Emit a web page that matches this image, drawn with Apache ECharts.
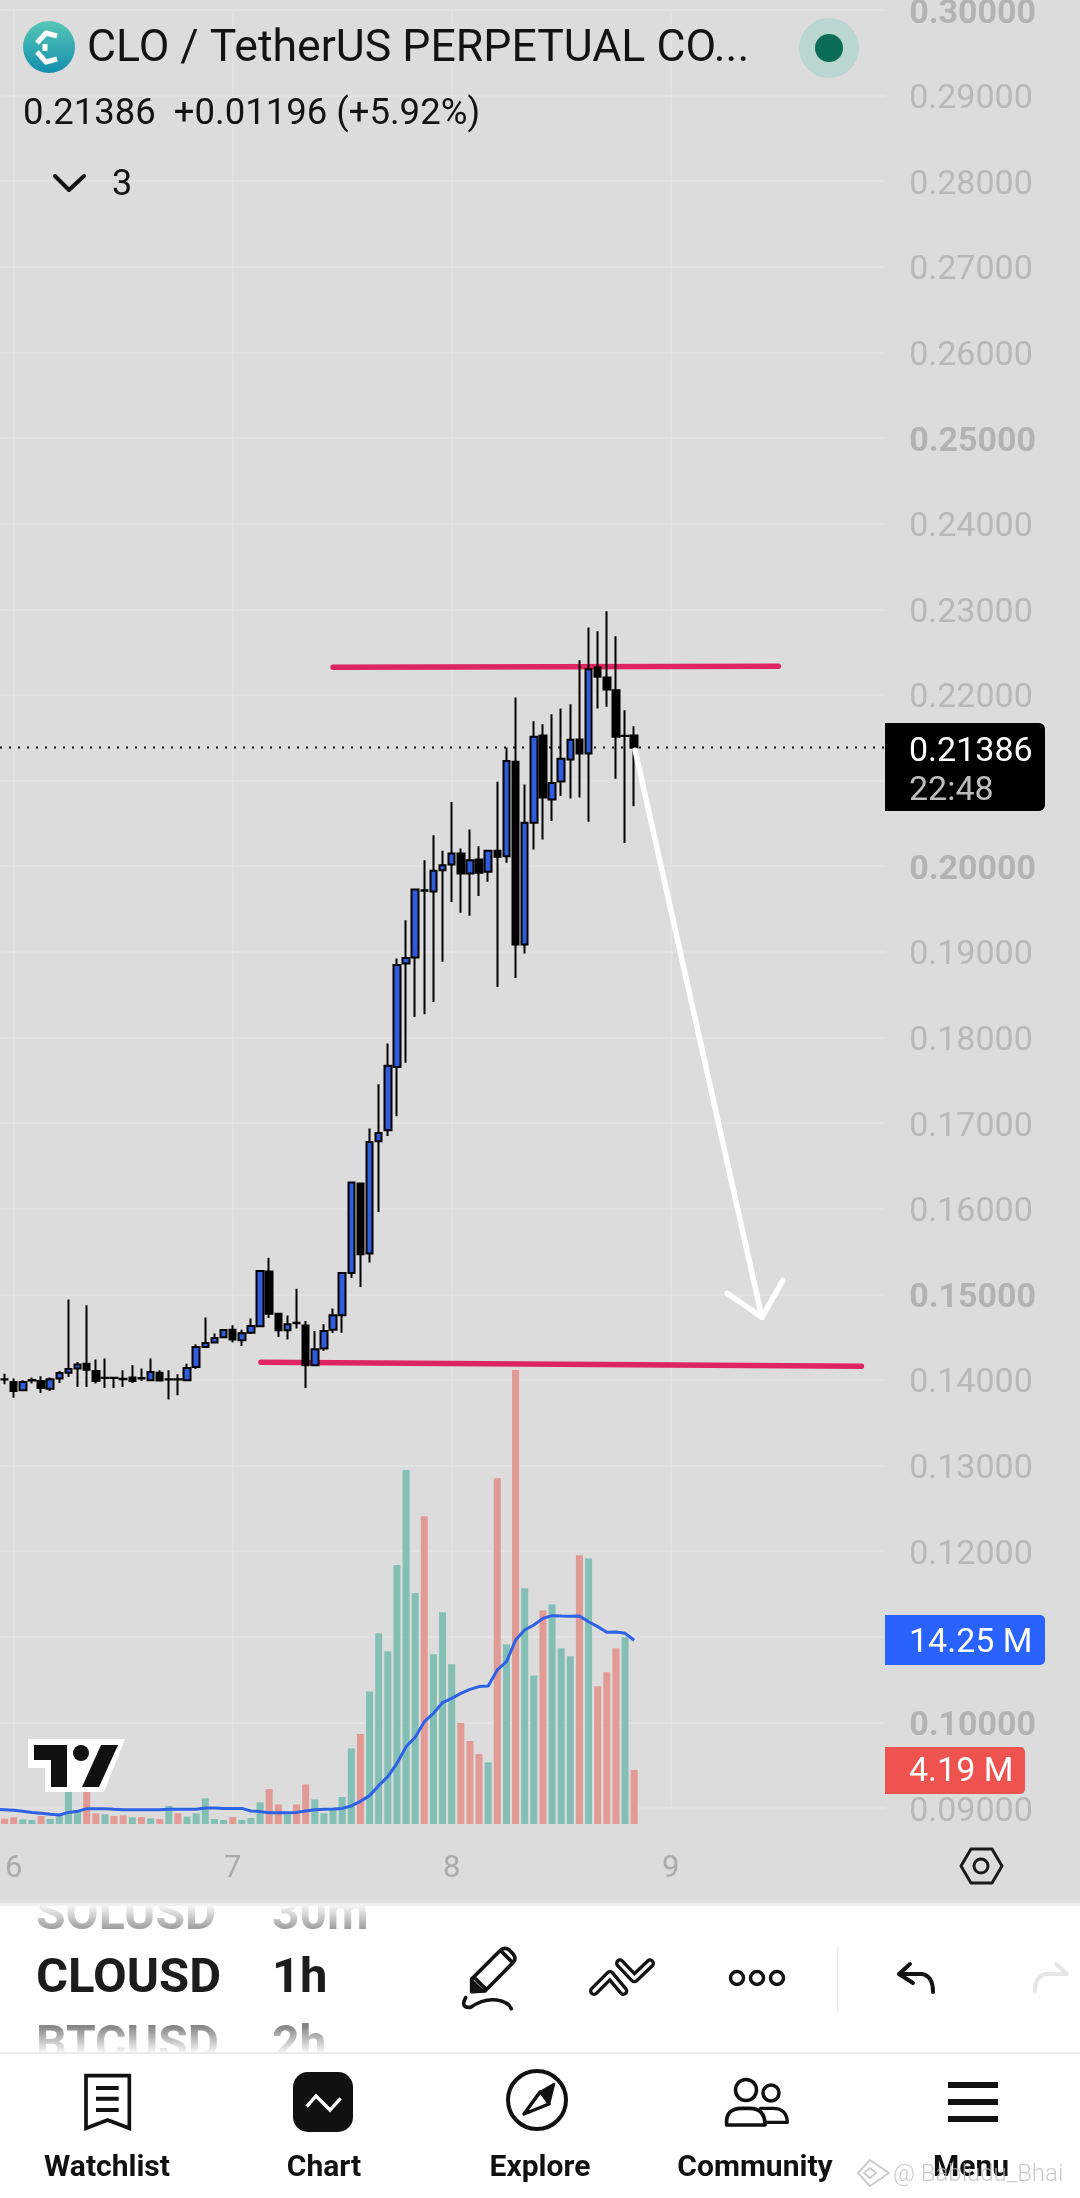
<!DOCTYPE html>
<html><head><meta charset="utf-8"><title>CLO / TetherUS</title>
<style>html,body{margin:0;padding:0;background:#fff}#c{width:1080px;height:2198px}</style>
<script src="https://cdn.jsdelivr.net/npm/echarts@6/dist/echarts.min.js"></script>
</head><body><div id="c"></div>
<script>
// [open, close, low, high]
const candles = [
[.14009,.14005,.13949,.14073],[.13976,.13871,.13793,.14015],[.13879,.13976,.13879,.13996],[.13998,.13994,.13957,.14027],
[.13988,.13906,.13848,.14042],[.13898,.14007,.13871,.14027],[.14015,.14081,.13964,.14105],[.14085,.14128,.14034,.14938],
[.14132,.14179,.13918,.14210],[.14190,.14120,.13918,.14872],[.14105,.13988,.13957,.14237],[.14025,.14021,.13906,.14249],
[.14025,.14021,.13906,.14025],[.14013,.14009,.13918,.14112],[.14027,.13988,.13964,.14171],[.14021,.14017,.13988,.14132],
[.13996,.14093,.13988,.14249],[.14085,.13992,.13988,.14112],[.14009,.14005,.13770,.14112],[.14009,.14005,.13820,.14066],
[.13996,.14140,.13988,.14190],[.14151,.14385,.14128,.14416],[.14385,.14432,.14377,.14728],[.14436,.14490,.14424,.14541],
[.14498,.14583,.14494,.14587],[.14587,.14471,.14436,.14638],[.14463,.14544,.14397,.14587],[.14552,.14630,.14537,.14716],
[.14626,.15273,.14619,.15281],[.15265,.14774,.14724,.15428],[.14774,.14580,.14502,.14782],[.14580,.14650,.14471,.14751],
[.14667,.14663,.14599,.15066],[.14634,.14171,.13906,.14689],[.14171,.14358,.14171,.14572],[.14366,.14572,.14338,.14650],
[.14587,.14755,.14548,.14833],[.14755,.15249,.14552,.15261],[.15249,.16305,.15191,.16312],[.16293,.15467,.15086,.16305],
[.15475,.16780,.15370,.16935],[.16787,.16885,.15962,.17453],[.16916,.17668,.16850,.17928],[.17656,.18847,.17080,.18921],
[.18863,.18929,.17703,.19369],[.18933,.19727,.18240,.19739],[.19718,.19714,.18271,.20070],[.19704,.19946,.18415,.20362],
[.19953,.20012,.18883,.20179],[.20019,.20148,.19583,.20751],[.20148,.19914,.19455,.20206],[.19914,.20070,.19420,.20428],
[.20078,.19922,.19653,.20233],[.19934,.20179,.19817,.20179],[.20179,.20109,.18590,.20985],[.20117,.21230,.20039,.21386],
[.21219,.19085,.18695,.21970],[.19085,.20506,.18980,.20954],[.20506,.21511,.20194,.21694],[.21526,.20802,.20311,.21659],
[.20779,.20973,.20529,.21775],[.20989,.21254,.20821,.21842],[.21246,.21476,.20790,.21892],[.21480,.21316,.20802,.22406],
[.21316,.22301,.20518,.22788],[.22321,.22212,.21842,.22745],[.22204,.22064,.21861,.22979],[.22056,.21511,.21020,.22687],
[.21524,.21520,.20272,.21822],[.21526,.21386,.20701,.21635]];
const volumes = [.41,.52,.36,.31,.62,.39,.70,2.51,.96,2.51,.83,.75,.62,.67,.52,.54,.44,.39,1.40,.83,.57,.83,1.99,.39,.31,.54,.31,.47,1.68,2.71,1.52,.75,1.52,3.07,1.91,.83,1.09,2.09,5.87,6.98,10.28,14.78,13.39,20.08,27.44,17.91,23.85,13.15,16.41,12.38,7.83,6.43,5.43,4.78,26.80,13.93,35.19,18.27,11.52,16.56,17.03,13.62,13.00,20.83,20.59,10.67,11.76,13.62,14.47,4.19];
// 1 = green bar, 0 = red bar
const volumeUp = [0,0,1,1,0,1,1,1,1,0,0,1,0,0,1,0,1,0,1,0,1,1,1,1,1,0,1,1,1,0,0,1,0,0,1,1,1,1,1,0,1,1,1,1,1,1,0,1,1,1,0,0,0,1,0,1,0,1,1,0,1,1,1,0,1,0,0,0,1,0];
const volumeMA = [1.11,1.06,.98,.90,.83,.75,.70,.90,.98,1.19,1.19,1.19,1.14,1.11,1.11,1.11,1.11,1.11,1.14,1.14,1.14,1.14,1.24,1.24,1.21,1.21,1.21,1.01,.96,.88,.88,.88,.90,1.01,1.11,1.14,1.16,1.21,1.40,1.76,2.20,2.97,3.67,4.70,5.99,6.72,7.93,8.58,9.41,9.74,10.13,10.44,10.65,10.70,11.94,12.58,14.26,15.04,15.43,15.94,16.15,16.12,16.10,16.12,15.68,15.30,14.86,14.88,14.78,14.25];
const volumeMAStart = 1.13;
const dayTicks = {1:'6',25:'7',49:'8',73:'9'};
const barSlots = 97;
const priceMin = 0.09, priceMax = 0.30, priceStep = 0.01;
// hand-drawn tools, in [bar position, price]
const resistanceLine = [[36.0,.22325],[84.8,.22336]];
const supportLine = [[28.1,.14206],[93.9,.14159]];
const arrowShaft = [[69.1,.21355],[83.0,.14731]];
const arrowHead = [[79.2,.15011],[83.0,.14731],[85.3,.15163]];
const lastPriceLine = [[-0.5,.21386],[96.5,.21386]];

const slotIndex = Array.from({length:barSlots},(_,i)=>String(i));
const FONT='Roboto';
const G=[];
let pathCount=0;
function txt(text,x,y,size,fill,weight,align,z){G.push({type:'text',z:z||70,style:{text,x,y,font:(weight||400)+' '+size+'px '+FONT,fill,align:align||'left',verticalAlign:'middle'}});}
function rect(x,y,w,h,fill,z,r){G.push({type:'rect',z:z||70,shape:{x,y,width:w,height:h,r:r||0},style:{fill}});}
function icon(d,ox,oy,s,style,z){
  const name='iconPath'+(pathCount++);
  echarts.graphic.registerShape(name,echarts.graphic.extendPath(d,{}));
  G.push({type:name,z:z||70,x:ox,y:oy,scaleX:s,scaleY:s,style:Object.assign({fill:'none',lineCap:'round',lineJoin:'round'},style)});
}
function circ(cx,cy,r,style,z){G.push({type:'circle',z:z||70,shape:{cx,cy,r},style});}
const fade=(a,b)=>({type:'linear',x:0,y:0,x2:0,y2:1,colorStops:[{offset:0,color:a},{offset:1,color:b}]});

// header
circ(49,47,26,{fill:fade('#56c6b6','#138fae')});
icon('M57,36 L46,33 L37,43 M37,52 L46,62 L57,59 M45,44 L45,51',0,0,1,{stroke:'#fff',lineWidth:5,lineCap:'butt'});
txt('CLO / TetherUS PERPETUAL CO...',87,50,44.6,'#131313');
txt('0.21386  +0.01196 (+5.92%)',23,115,36.5,'#131313');
icon('M55,176 L69,190 L84,176',0,0,1,{stroke:'#131313',lineWidth:4});
txt('3',112,186,36,'#131313');
circ(829,48,30,{fill:'#b9d6d1'});
circ(829,48,14,{fill:'#0a6b57'});
// price tags
rect(885,723,160,88,'#000',70,[0,6,6,0]);
txt('0.21386',909,752,34,'#fff');
txt('22:48',909,791,34,'#bdbdbd');
rect(885,1615,160,50,'#2962ff',70,[0,5,5,0]);
txt('14.25 M',909,1643,34,'#fff');
rect(885,1747,140,47,'#ef5350',70,[0,5,5,0]);
txt('4.19 M',909,1772,34,'#fff');
// logo
G.push({type:'polygon',z:70,shape:{points:[[28,1739],[125,1739],[104,1792],[45,1792],[45,1768],[28,1768]]},style:{fill:'#fff'}});
G.push({type:'polygon',z:71,shape:{points:[[34,1745],[67,1745],[67,1787],[51,1787],[51,1760],[34,1760]]},style:{fill:'#111'}});
G.push({type:'polygon',z:71,shape:{points:[[101,1745],[118,1745],[99,1787],[82,1787]]},style:{fill:'#111'}});
circ(81,1753,8,{fill:'#111'},71);
// settings hex
icon('M971,1849 L992,1849 L1002,1866 L992,1883 L971,1883 L961,1866 Z',0,0,1,{stroke:'#1a1a1a',lineWidth:3});
circ(981,1866,7,{fill:'none',stroke:'#1a1a1a',lineWidth:3});
// bottom panel
rect(0,1906,1080,292,'#fff',50);
txt('SOLUSD',36,1917,48,'#929292',700,'left',51);
txt('30m',272,1917,48,'#929292',700,'left',51);
txt('BTCUSD',36,2047,48,'#858585',700,'left',51);
txt('2h',272,2047,48,'#858585',700,'left',51);
rect(0,1906,400,26,fade('rgba(255,255,255,.9)','rgba(255,255,255,0)'),51.5);
rect(0,2026,400,27,fade('rgba(255,255,255,0)','rgba(255,255,255,.95)'),51.5);
rect(0,1882,1080,21,'#dcdcdc',52);
rect(0,1903,1080,3,'#f0f0f0',52);
rect(0,2053,1080,145,'#fff',52);
rect(0,2052,1080,2,'#ececec',53);
txt('CLOUSD',36,1980,49,'#1c1c1c',700);
txt('1h',272,1980,49,'#1c1c1c',700);
// toolbar icons
const tb={stroke:'#131313',lineWidth:11};
icon('M65,185 L65,147 L152,60 Q165,50 178,60 L190,73 Q200,85 190,97 L105,183 Z M155,65 L188,98 M75,145 L108,178',450,1930,1/3,tb);
icon('M65,185 L65,150 L100,183 Z',450,1930,1/3,{fill:'#131313',stroke:'#131313',lineWidth:6});
icon('M47,203 Q30,235 62,232 Q100,205 140,210 Q175,215 184,236',450,1930,1/3,tb);
icon('M432,183 L480,135 L520,183',450,1930,1/3,{stroke:'#131313',lineWidth:30});
icon('M432,183 L480,135 L520,183',450,1930,1/3,{stroke:'#fff',lineWidth:10});
icon('M510,100 L553,145 L600,100',450,1930,1/3,{stroke:'#131313',lineWidth:30});
icon('M510,100 L553,145 L600,100',450,1930,1/3,{stroke:'#fff',lineWidth:10});
[737,757,777].forEach(x=>circ(x,1978,6.5,{fill:'none',stroke:'#131313',lineWidth:3.5}));
rect(837,1945,1.5,68,'#ececec');
icon('M910,1964 L899,1974 L913,1983 M899,1974 L922,1974 Q933,1976 933,1992',0,0,1,{stroke:'#131313',lineWidth:4});
icon('M1056,1964 L1067,1974 M1067,1974 L1046,1974 Q1035,1976 1035,1991',0,0,1,{stroke:'#e6e6e6',lineWidth:4});
// nav icons
const ni={stroke:'#111',lineWidth:11};
icon('M78,47 L208,47 L208,205 L143,180 L78,205 Z',60,2060,1/3,Object.assign({},ni,{lineCap:'butt',lineJoin:'miter'}));
icon('M108,84 L176,84 M108,116 L176,116 M108,150 L176,150',60,2060,1/3,{stroke:'#111',lineWidth:12,lineCap:'butt'});
rect(293,2072,60,60,'#111',70,15);
icon('M740,140 L768,108 L810,150 L842,115',60,2060,1/3,{stroke:'#fff',lineWidth:10,lineCap:'butt',lineJoin:'miter'});
circ(537,2100,29,{fill:'none',stroke:'#111',lineWidth:4});
icon('M554,2084 L540,2092 L549,2104 Z',0,0,1,{fill:'#111',stroke:'#111',lineWidth:2.5});
icon('M540,2092 L524,2114 L549,2104',0,0,1,{stroke:'#111',lineWidth:3.5});
circ(746,2090,10.5,{fill:'none',stroke:'#111',lineWidth:3.5});
circ(771,2093,8,{fill:'none',stroke:'#111',lineWidth:3.5});
icon('M170,195 Q165,145 215,145 L240,145 Q285,145 285,195 Z',670,2060,1/3,{stroke:'#111',lineWidth:11});
icon('M272,145 L310,145 Q350,145 352,187 L288,187',670,2060,1/3,{stroke:'#111',lineWidth:10});
rect(948,2082,50,6,'#111');rect(948,2099,50,6,'#111');rect(948,2116,50,6,'#111');
[['Watchlist',107],['Chart',324],['Explore',540],['Community',755],['Menu',971]].forEach(a=>txt(a[0],a[1],2168,30,'#111',700,'center'));
// watermark
icon('M870,2160 L889,2173 L870,2186 L858,2173 Z M864,2173 L870,2168 L876,2173 L870,2178 Z',0,0,1,{stroke:'rgba(190,190,190,.8)',lineWidth:2});
txt('@ Babludu_Bhai',893,2175,24,'rgba(190,190,190,.8)',300,'left',72);

const ax={show:false,type:'category',data:slotIndex,boundaryGap:true};
const tool=(name,data,color,width,z)=>({name,type:'line',xAxisIndex:2,yAxisIndex:0,data,symbol:'none',silent:true,z,
  lineStyle:{color,width,cap:'round',join:'round'},animation:false});
const option={
  animation:false,backgroundColor:'#dcdcdc',
  grid:[{left:0,top:10,width:885.125,height:1798,outerBoundsMode:'none',containLabel:false},
        {left:0,top:1308,width:885.125,height:516,outerBoundsMode:'none',containLabel:false}],
  xAxis:[
    {type:'category',gridIndex:0,data:slotIndex,boundaryGap:true,
     axisLine:{show:false},axisTick:{show:false},
     axisLabel:{interval:i=>dayTicks[i]!==undefined,formatter:(v,i)=>dayTicks[i]||'',fontFamily:FONT,fontSize:31,color:'#ababab',margin:46,hideOverlap:false,showMinLabel:true},
     splitLine:{show:true,alignWithLabel:true,interval:i=>dayTicks[i]!==undefined,lineStyle:{color:'#e3e3e3',width:1.5}}},
    Object.assign({gridIndex:1},ax),
    {type:'value',gridIndex:0,min:-0.5,max:96.5,show:false},
    {type:'value',gridIndex:1,min:-0.5,max:96.5,show:false}
  ],
  yAxis:[
    {type:'value',gridIndex:0,position:'right',min:priceMin,max:priceMax,interval:priceStep,
     axisLine:{show:false},axisTick:{show:false},
     splitLine:{lineStyle:{color:'#e3e3e3',width:1.5}},
     axisLabel:{margin:24,align:'left',fontFamily:FONT,showMinLabel:true,showMaxLabel:true,padding:[8,0,0,0],
       formatter:v=>{const m=Math.round(v*100)%5===0;return (m?'{b|':'{n|')+v.toFixed(5)+'}';},
       rich:{b:{fontFamily:FONT,fontSize:34,fontWeight:700,color:'#b3b3b3'},n:{fontFamily:FONT,fontSize:34,color:'#b8b8b8'}}}},
    {type:'value',gridIndex:1,min:0,max:40,show:false}
  ],
  series:[
    {name:'Volume',type:'bar',xAxisIndex:1,yAxisIndex:1,barWidth:7,z:1,
     data:volumes.map((v,i)=>({value:v,itemStyle:{color:volumeUp[i]?'#84bfb5':'#e29a95'}}))},
    {name:'Volume MA',type:'line',xAxisIndex:3,yAxisIndex:1,data:[[-0.5,volumeMAStart]].concat(volumeMA.map((v,i)=>[i,v])),symbol:'none',z:2,lineStyle:{color:'#2e62e6',width:3}},
    tool('Last price',lastPriceLine,'#111',2,1),
    tool('Resistance',resistanceLine,'#de2462',5.5,2),
    tool('Support',supportLine,'#de2462',5.5,2),
    {name:'CLOUSDT',type:'candlestick',xAxisIndex:0,yAxisIndex:0,data:candles,barWidth:7,z:3,
     itemStyle:{color:'#2e5cdb',color0:'#000',borderColor:'#000',borderColor0:'#000',borderWidth:2}},
    tool('Arrow shaft',arrowShaft,'#fff',5.5,4),
    tool('Arrow head',arrowHead,'#fff',5.5,4)
  ],
  graphic:{elements:G}
};
option.series[2].lineStyle.type=[2,7];
option.series[2].lineStyle.cap='butt';
const chart=echarts.init(document.getElementById('c'),null,{width:1080,height:2198,renderer:'canvas'});
chart.setOption(option);
</script></body></html>
